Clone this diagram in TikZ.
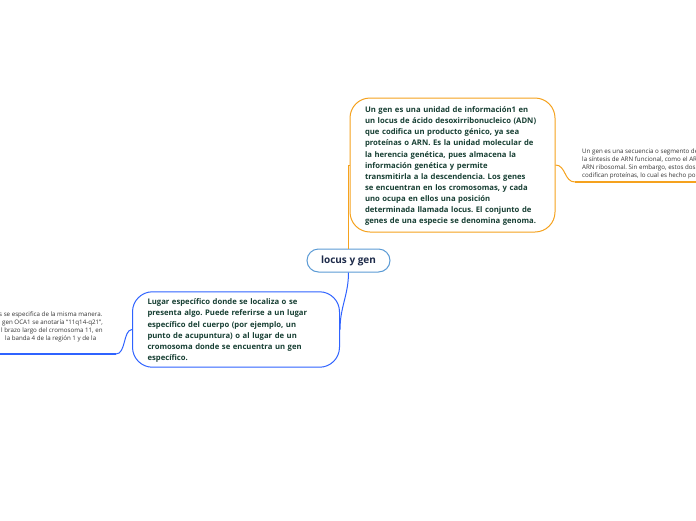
\documentclass[tikz,border=0pt]{standalone}
\usepackage{fontspec}
\setmainfont{Open Sans}
\usepackage{xcolor}
\definecolor{gold}{HTML}{F5A21E}
\definecolor{skyline}{HTML}{5B9BD5}
\definecolor{brightblue}{HTML}{2F63FF}
\definecolor{topictext}{HTML}{173F33}
\definecolor{roottext}{HTML}{1E2B4A}
\definecolor{notetext}{HTML}{333333}
\frenchspacing

\begin{document}
\begin{tikzpicture}[x=1pt,y=-1pt,
    topic/.style={draw, fill=white, line width=1pt, rounded corners=20pt, align=left,
      inner xsep=15pt, inner ysep=5pt, text=topictext,
      font=\bfseries\fontsize{7.7}{11.1}\selectfont},
    note/.style={inner sep=0pt, align=left, text=notetext, font=\fontsize{6.2}{7.9}\selectfont},
    link/.style={line width=1pt}]
  \useasboundingbox (0,0) rectangle (696,520);
  \clip (0,0) rectangle (696,520);

  \node [draw=skyline, fill=white, line width=1pt, rounded corners=11.5pt, minimum width=83pt,
    minimum height=23pt, text=roottext, font=\bfseries\fontsize{10}{12}\selectfont]
    (root) at (348.5,260.5) {locus y gen};

  \node [topic, draw=gold, text width=175pt, minimum height=134pt] (gen) at (452.5,165) {%
    \\[-3pt]
    Un gen es una unidad de información1 en\\
    un locus de ácido desoxirribonucleico (ADN)\\
    que codifica un producto génico, ya sea\\
    proteínas o ARN. Es la unidad molecular de\\
    la herencia genética, pues almacena la\\
    información genética y permite\\
    transmitirla a la descendencia. Los genes\\
    se encuentran en los cromosomas, y cada\\
    uno ocupa en ellos una posición\\
    determinada llamada locus. El conjunto de\\
    genes de una especie se denomina genoma.};

  \node [topic, draw=brightblue, text width=177pt, minimum height=75pt] (lugar) at (236,329.5) {%
    \\[-3pt]
    Lugar específico donde se localiza o se\\
    presenta algo. Puede referirse a un lugar\\
    específico del cuerpo (por ejemplo, un\\
    punto de acupuntura) o al lugar de un\\
    cromosoma donde se encuentra un gen\\
    específico.};

  \coordinate (rnote) at (575,182);
  \coordinate (lnote) at (116,354);

  \node [note, anchor=base west] (gennote) at (582,177) {%
    Un gen es una secuencia o segmento de ADN\\
    la síntesis de ARN funcional, como el ARN\\
    ARN ribosomal. Sin embargo, estos dos tipos\\
    codifican proteínas, lo cual es hecho por el};

  \node [note, anchor=base west] (lugarnote) at (-1,340) {%
    s se especifica de la misma manera.\\
    \hspace*{3pt}gen OCA1 se anotaría “11q14-q21”,\\
    \hspace*{2pt}l brazo largo del cromosoma 11, en\\
    \hspace*{6pt}la banda 4 de la región 1 y de la};

  % ramas
  \draw [link, gold] (root.north) |- (gen.west);
  \draw [link, gold] (gen.east) .. controls (566,165) and (564,182) .. (rnote);
  \draw [gold, line width=1.5pt] (rnote) -- (700,182);
  \draw [link, brightblue] (root.south) to[out=-90, in=90] (lugar.east);
  \draw [link, brightblue] (lugar.west) .. controls (123,330) and (126,354) .. (lnote);
  \draw [brightblue, line width=1.5pt] (lnote) -- (-4,354);
\end{tikzpicture}
\end{document}
